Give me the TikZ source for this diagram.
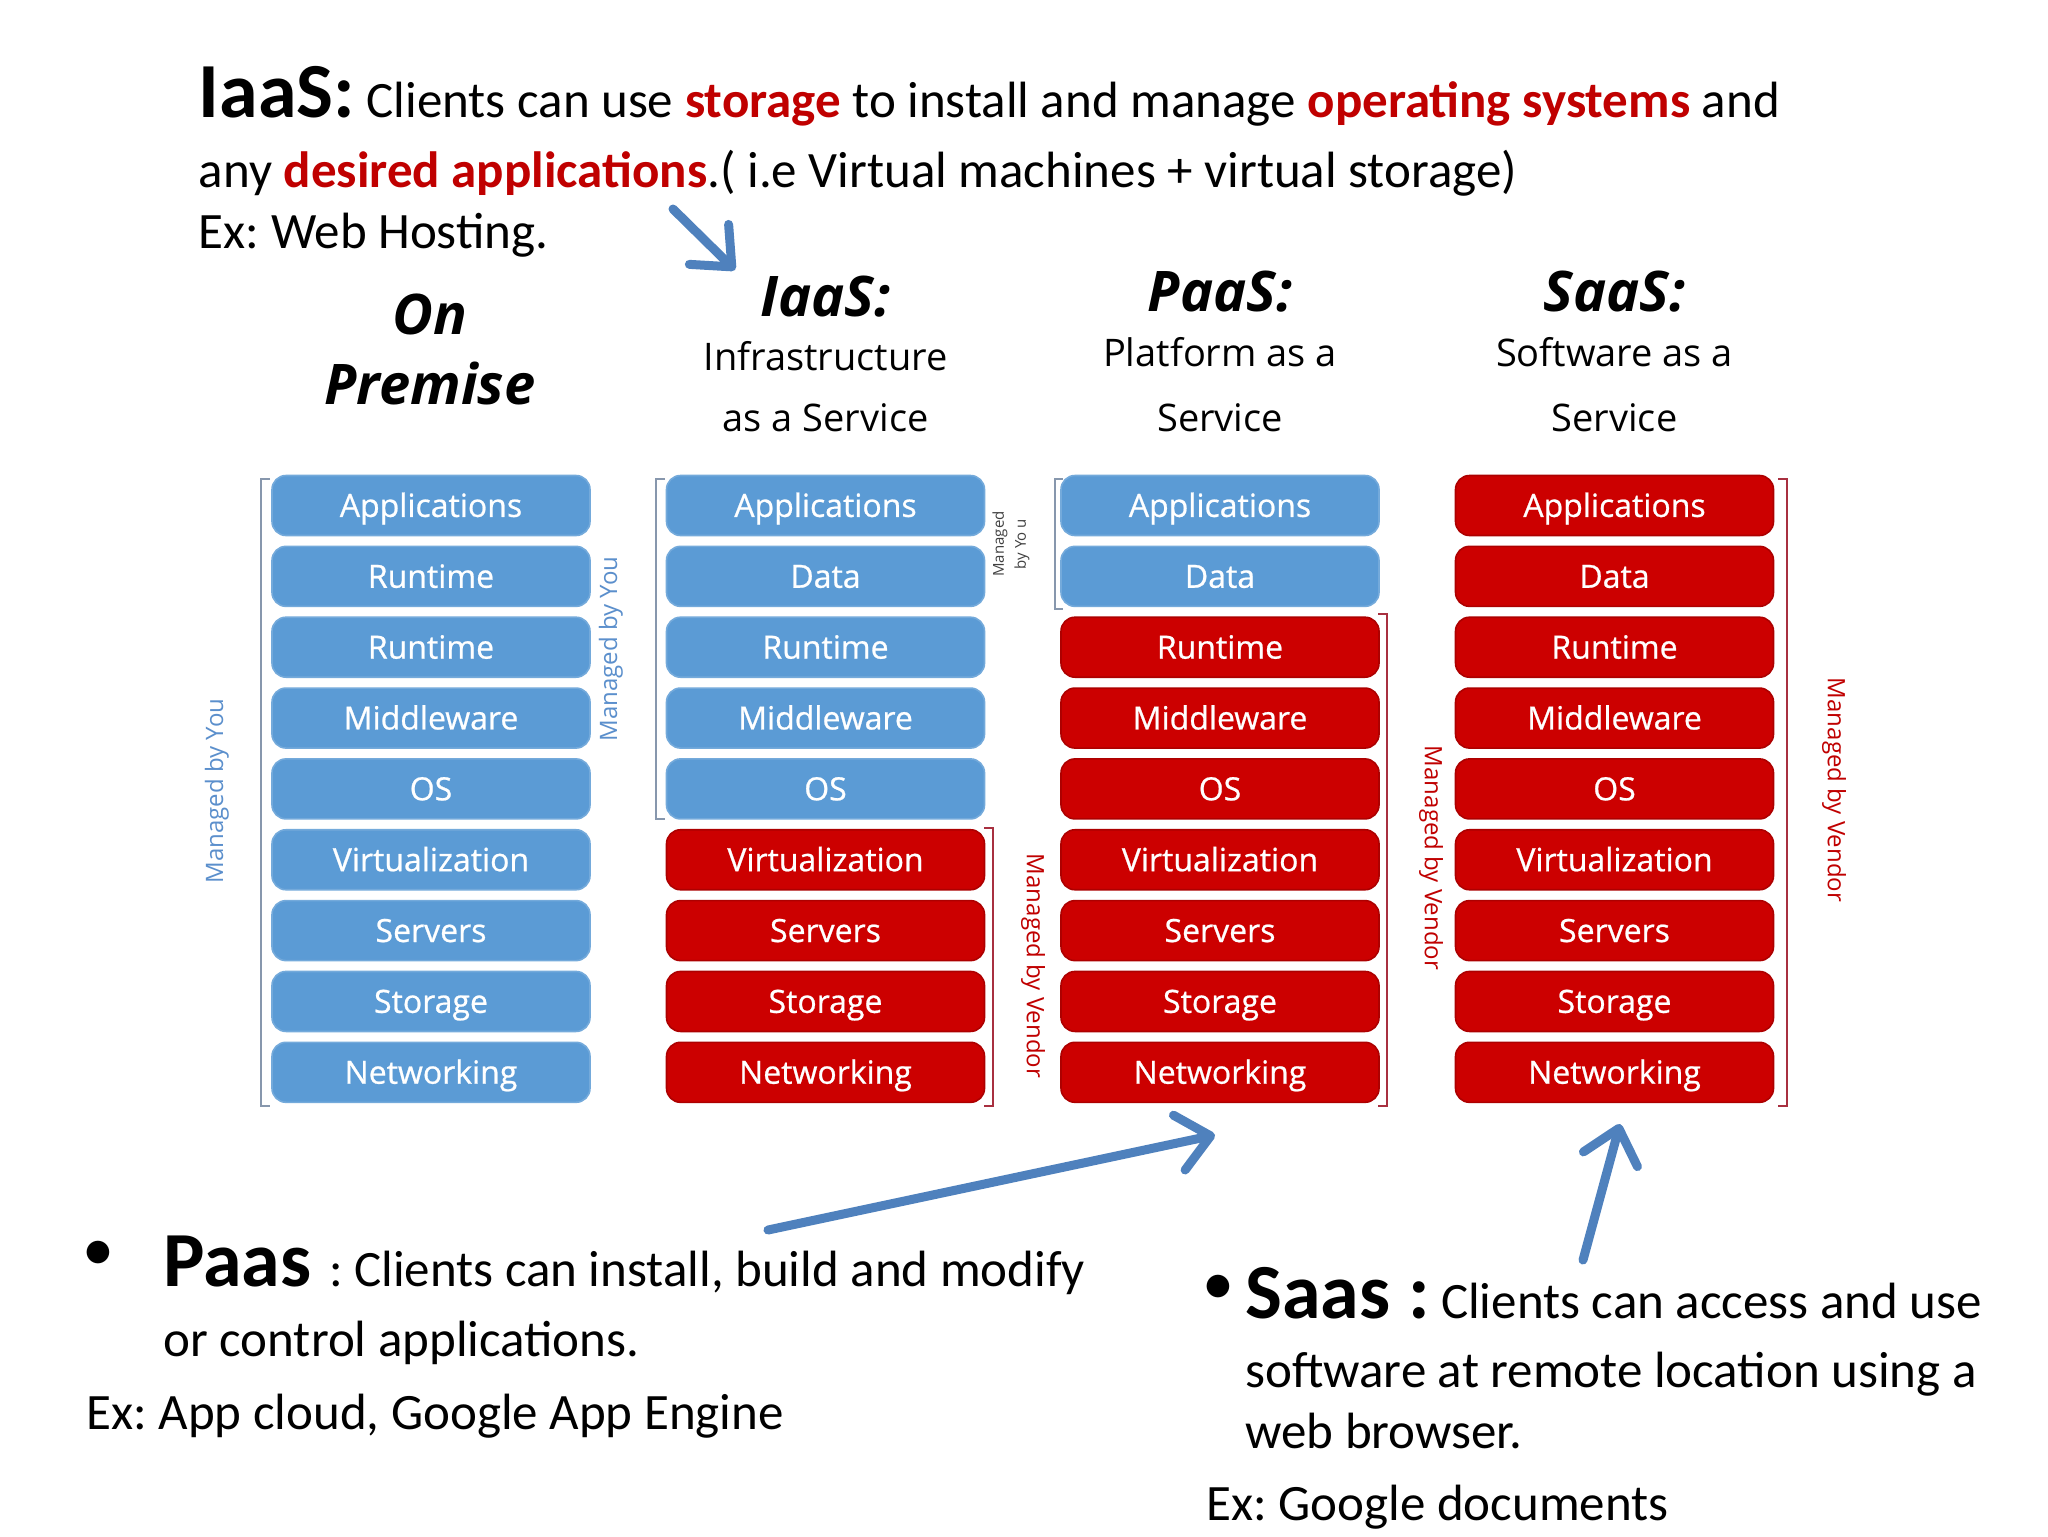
\documentclass[tikz,border=0pt]{standalone}
\usepackage{fontspec}
\setmainfont{Carlito}
\newfontfamily\hfont{Open Sans}
\newfontfamily\boxfont[FakeBold=0.7]{Open Sans}
\usetikzlibrary{arrows.meta}
\frenchspacing
\definecolor{boxblue}{HTML}{5B9BD5}
\definecolor{boxred}{HTML}{CC0000}
\definecolor{hl}{HTML}{C00000}
\definecolor{arrblue}{HTML}{4F81BD}
\definecolor{brkblue}{HTML}{8797AD}
\definecolor{brkred}{HTML}{A83040}
\definecolor{lblblue}{HTML}{5B8FCC}
\definecolor{lblred}{HTML}{C00000}
\tikzset{
  layer/.style={rounded corners=7pt, minimum width=159pt, minimum height=30pt,
    inner sep=0pt, text=white, text height=11.4pt, text depth=0pt,
    font=\boxfont\fontsize{16}{16}\selectfont, line width=0.8pt},
  bluelayer/.style={layer, fill=boxblue, draw=boxblue!85!white},
  redlayer/.style={layer, fill=boxred, draw=boxred!85!black},
  colhead/.style={anchor=base, inner sep=0pt, font=\hfont\bfseries\itshape\fontsize{28}{28}\selectfont},
  colsub/.style={anchor=base, inner sep=0pt, font=\hfont\fontsize{19}{19}\selectfont},
  youlbl/.style={rotate=90, inner sep=0pt, text=lblblue, font=\hfont\fontsize{12}{12}\selectfont},
  vendlbl/.style={rotate=-90, inner sep=0pt, text=lblred, font=\hfont\fontsize{12}{12}\selectfont},
  brkb/.style={draw=brkblue, line width=1.2pt},
  brkr/.style={draw=brkred, line width=1.2pt},
  txt/.style={anchor=base west, inner sep=0pt, font=\fontsize{25.5}{30}\selectfont},
  bul/.style={inner sep=0pt, font=\fontsize{32}{32}\selectfont},
  bigarrow/.style={draw=arrblue, line width=4.5pt, line cap=round,
    -{Straight Barb[length=16pt, width=28pt, line cap=round, line join=round]}}
}
\newcommand{\bigb}[1]{{\fontsize{39}{39}\selectfont\bfseries #1}}
\newcommand{\red}[1]{\textbf{\textcolor{hl}{#1}}}
\begin{document}
\begin{tikzpicture}[x=0.5pt,y=-0.5pt]
\useasboundingbox (0,0) rectangle (2048,1536);
\fill[white] (0,0) rectangle (2048,1536);

% top text
\node[txt] (top1) at (198.5,117.5) {\bigb{IaaS:} Clients can use \red{storage} to install and manage \red{operating systems} and};
\node[txt] (top2) at (198.5,187) {any \red{desired applications}.( i.e Virtual machines + virtual storage)};
\node[txt] (top3) at (198.5,248) {Ex: Web Hosting.};

% column headings
\node[colhead] (h1a) at (430,334) {On};
\node[colhead] (h1b) at (430,404) {Premise};
\node[colhead] (h2a) at (825.5,316) {IaaS:};
\node[colsub] (h2b) at (825.5,370) {Infrastructure};
\node[colsub] (h2c) at (825.5,431) {as a Service};
\node[colhead] (h3a) at (1220,311) {PaaS:};
\node[colsub] (h3b) at (1220,366) {Platform as a};
\node[colsub] (h3c) at (1220,431) {Service};
\node[colhead] (h4a) at (1614.5,311) {SaaS:};
\node[colsub] (h4b) at (1614.5,366) {Software as a};
\node[colsub] (h4c) at (1614.5,431) {Service};

% stacks
\foreach \lab/\sty [count=\j from 0] in {Applications/bluelayer,Runtime/bluelayer,Runtime/bluelayer,Middleware/bluelayer,OS/bluelayer,Virtualization/bluelayer,Servers/bluelayer,Storage/bluelayer,Networking/bluelayer}
  \node[\sty] (op\j) at (431,{505.5+70.85*\j}) {\lab};
\foreach \lab/\sty [count=\j from 0] in {Applications/bluelayer,Data/bluelayer,Runtime/bluelayer,Middleware/bluelayer,OS/bluelayer,Virtualization/redlayer,Servers/redlayer,Storage/redlayer,Networking/redlayer}
  \node[\sty] (ia\j) at (825.5,{505.5+70.85*\j}) {\lab};
\foreach \lab/\sty [count=\j from 0] in {Applications/bluelayer,Data/bluelayer,Runtime/redlayer,Middleware/redlayer,OS/redlayer,Virtualization/redlayer,Servers/redlayer,Storage/redlayer,Networking/redlayer}
  \node[\sty] (pa\j) at (1220,{505.5+70.85*\j}) {\lab};
\foreach \lab/\sty [count=\j from 0] in {Applications/redlayer,Data/redlayer,Runtime/redlayer,Middleware/redlayer,OS/redlayer,Virtualization/redlayer,Servers/redlayer,Storage/redlayer,Networking/redlayer}
  \node[\sty] (sa\j) at (1614.5,{505.5+70.85*\j}) {\lab};

% brackets
\draw[brkb] (270,479) -- (261,479) -- (261,1106) -- (270,1106);
\draw[brkb] (665,479) -- (656,479) -- (656,819) -- (665,819);
\draw[brkb] (1063,479) -- (1055,479) -- (1055,609) -- (1063,609);
\draw[brkr] (984,828) -- (993,828) -- (993,1106) -- (984,1106);
\draw[brkr] (1378,614) -- (1387,614) -- (1387,1106) -- (1378,1106);
\draw[brkr] (1778,479) -- (1787,479) -- (1787,1106) -- (1778,1106);

% bracket labels
\node[youlbl] (l1) at (217,791) {Managed by You};
\node[youlbl] (l2) at (611,649) {Managed by You};
\node[vendlbl] (l3) at (1033,966) {Managed by Vendor};
\node[vendlbl] (l4) at (1431,858) {Managed by Vendor};
\node[vendlbl] (l5) at (1834,790) {Managed by Vendor};
\node[rotate=90, align=center, inner sep=0pt, text=black!75, font=\hfont\fontsize{7.5}{11}\selectfont] (l6) at (1011,544) {Managed\\by Yo u};

% bottom text
\node[bul] (b1) at (98,1256) {•};
\node[txt] (p1) at (163,1286) {\bigb{Paas }: Clients can install, build and modify};
\node[txt] (p2) at (163,1356) {or control applications.};
\node[txt] (p3) at (86,1429) {Ex: App cloud, Google App Engine};
\node[bul] (b2) at (1218,1290) {•};
\node[txt] (s1) at (1245,1318) {\bigb{Saas :} Clients can access and use};
\node[txt] (s2) at (1245,1387) {software at remote location using a};
\node[txt] (s3) at (1245,1448) {web browser.};
\node[txt] (s4) at (1206,1520) {Ex: Google documents};

% arrows
\coordinate (a1s) at (673,209);
\coordinate (a1e) at (735,270);
\coordinate (a2s) at (768,1230);
\coordinate (a2e) at (1215,1135);
\coordinate (a3s) at (1583,1260);
\coordinate (a3e) at (1620,1124);
\draw[bigarrow] (a1s) -- (a1e);
\draw[bigarrow] (a2s) -- (a2e);
\draw[bigarrow] (a3s) -- (a3e);
\end{tikzpicture}
\end{document}
